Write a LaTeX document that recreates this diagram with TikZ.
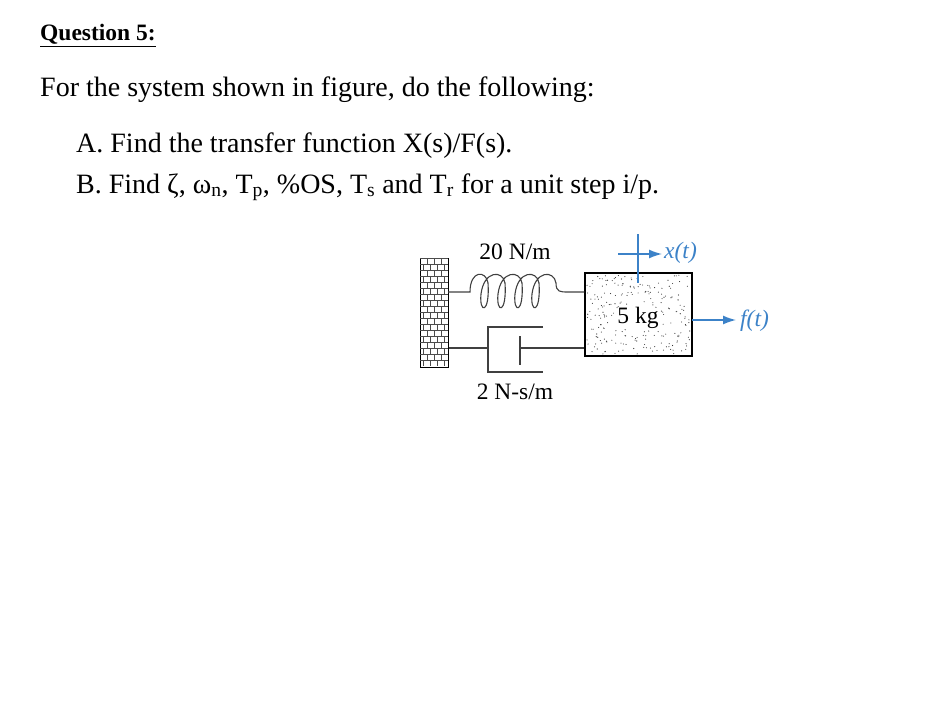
\documentclass[tikz,border=0pt]{standalone}
\usepackage{fontspec}
\setmainfont{Liberation Serif}
\usetikzlibrary{arrows.meta}
\begin{document}
\begin{tikzpicture}[x=1pt,y=-1pt,
  txt/.style={anchor=base west,inner sep=0pt},
  lbl/.style={font=\fontsize{23.5}{23.5}\selectfont,inner sep=0pt},
  mech/.style={line width=1.1pt,black!75},
  blu/.style={line width=1.4pt,color={rgb,255:red,60;green,130;blue,200}},
  bluarr/.style={blu,-{Latex[length=13pt,width=9pt]}}]
\useasboundingbox (0,0) rectangle (934,706);
\node[txt,font=\fontsize{23.5}{23.5}\selectfont\bfseries] (q) at (40,41) {\underline{Question 5:}};
\node[txt,font=\fontsize{28}{28}\selectfont] (l1) at (40,97) {For the system shown in figure, do the following:};
\node[txt,font=\fontsize{28}{28}\selectfont] (l2) at (76,153) {A. Find the transfer function X(s)/F(s).};
\node[txt,font=\fontsize{28}{28}\selectfont] (l3) at (76,193) {B. Find ζ, ω\textsubscript{n}, T\textsubscript{p}, \%OS, T\textsubscript{s} and T\textsubscript{r} for a unit step i/p.};
% wall
\node[draw,line width=1pt,minimum width=28pt,minimum height=109pt,inner sep=0pt] (wall) at (434,312.5) {};
\foreach \i in {0,...,17}{
  \draw[black!70,line width=0.6pt] (420,{258+6*\i}) -- (448,{258+6*\i});
  \pgfmathtruncatemacro\odd{mod(\i,2)}
  \ifnum\odd=0
    \foreach \xx in {427,434,441}{\draw[black!70,line width=0.6pt] (\xx,{258+6*\i}) -- (\xx,{264+6*\i});}
  \else
    \foreach \xx in {423.5,430.5,437.5,444.5}{\draw[black!70,line width=0.6pt] (\xx,{258+6*\i}) -- (\xx,{264+6*\i});}
  \fi}
% mass
\node[draw,line width=1.2pt,minimum width=107pt,minimum height=83pt,inner sep=0pt] (m) at (638.5,314.5) {};
\pgfmathsetseed{7}
\foreach \k in {1,...,260}{
  \fill[black!80] ({587+103*rnd},{275+79*rnd}) circle (0.55pt);}
\fill[white] (638,318) ellipse (26pt and 13pt);
\node[lbl] (mk) at (638,318) {5 kg};
% spring
\coordinate (s0) at (448,292);
\coordinate (s1) at (470,292);
\draw[mech] (s0) -- (s1) .. controls (470,270) and (486,270) .. (488,283)
  \foreach \c in {0,1,2,3}{
    .. controls ({488+\c*17+2},314) and ({488+\c*17-9},314) .. ({488+\c*17-7},294)
    .. controls ({488+\c*17-4},270) and ({488+(\c+1)*17-2},270) .. ({488+(\c+1)*17},283)}
  .. controls (556,292) and (560,292) .. (568,292) -- (m.west |- 0,292);
% damper
\draw[mech] (wall.east |- 0,348) -- (488,348);
\draw[mech] (543,327) -- (488,327) -- (488,372) -- (543,372);
\draw[mech] (520,336) -- (520,365);
\draw[mech] (520,348) -- (m.west |- 0,348);
\node[lbl] (kl) at (515,252) {20 N/m};
\node[lbl] (bl) at (515,392) {2 N-s/m};
% x(t)
\coordinate (xa) at (638,234);
\coordinate (xd) at (638,283);
\coordinate (xb) at (618,254);
\coordinate (xc) at (662,254);
\draw[blu] (xa) -- (xd);
\draw[bluarr] (xb) -- (xc);
\node[lbl,anchor=west,color={rgb,255:red,60;green,130;blue,200}] (xt) at (664,253) {\itshape x(t)};
% f(t)
\coordinate (fa) at (692,320);
\coordinate (fb) at (736,320);
\draw[bluarr] (fa) -- (fb);
\node[lbl,anchor=west,color={rgb,255:red,60;green,130;blue,200}] (ft) at (740,321) {\itshape f(t)};
\end{tikzpicture}
\end{document}
